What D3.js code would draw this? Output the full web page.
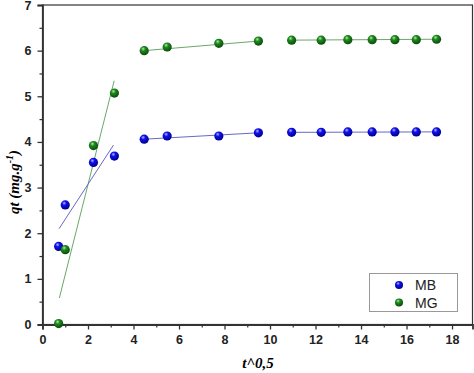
<!DOCTYPE html>
<html><head><meta charset="utf-8">
<script src="https://cdn.jsdelivr.net/npm/d3@7"></script>
<style>body{margin:0;background:#fff}svg{display:block}</style>
</head><body>
<svg id="c" width="474" height="373"></svg>
<script>
const tValues = [0.71, 1.00, 2.24, 3.16, 4.47, 5.48, 7.75, 9.49, 10.95, 12.25, 13.42, 14.49, 15.49, 16.43, 17.32];
const mbValues = [1.71, 2.62, 3.55, 3.69, 4.06, 4.13, 4.13, 4.20, 4.21, 4.21, 4.22, 4.22, 4.22, 4.22, 4.22];
const mgValues = [0.02, 1.64, 3.92, 5.07, 6.00, 6.08, 6.16, 6.21, 6.23, 6.23, 6.24, 6.24, 6.24, 6.24, 6.25];
const mbFits = [[[0.73, 2.10], [3.12, 3.93]], [[4.47, 4.06], [9.49, 4.20]], [[10.95, 4.21], [17.32, 4.22]]];
const mgFits = [[[0.74, 0.58], [3.15, 5.34]], [[4.47, 6.00], [9.49, 6.21]], [[10.95, 6.23], [17.32, 6.25]]];
const xTicks = [0, 2, 4, 6, 8, 10, 12, 14, 16, 18];
const yTicks = [0, 1, 2, 3, 4, 5, 6, 7];
const seriesNames = ["MB", "MG"];

const svg = d3.select("#c");
const L = 42.5, R = 472.5, T = 5, B = 324.5;
const x = d3.scaleLinear().domain([0, 18.9]).range([L, R]);
const y = d3.scaleLinear().domain([0, 7]).range([B, T]);

const defs = svg.append("defs");
function grad(id, light, base, dark) {
  const g = defs.append("radialGradient").attr("id", id).attr("cx", "40%").attr("cy", "35%").attr("r", "65%").attr("fx", "38%").attr("fy", "30%");
  g.append("stop").attr("offset", "0%").attr("stop-color", light);
  g.append("stop").attr("offset", "35%").attr("stop-color", base);
  g.append("stop").attr("offset", "100%").attr("stop-color", dark);
}
grad("gB", "#b8b8ff", "#1010f0", "#00008a");
grad("gG", "#b8e8b0", "#1c8c1c", "#0a4a0a");

// frame
svg.append("rect").attr("x", L).attr("y", T).attr("width", R - L).attr("height", B - T)
  .attr("fill", "none").attr("stroke", "#333").attr("stroke-width", 1.2);

// x axis
const xAxis = d3.axisBottom(x).tickValues(xTicks).tickSize(5).tickPadding(6).tickFormat(d3.format("d"));
const gx = svg.append("g").attr("transform", `translate(0,${B})`).call(xAxis);
gx.select(".domain").attr("stroke", "#333").attr("stroke-width", 1.8);
gx.selectAll(".tick line").attr("stroke", "#333").attr("stroke-width", 1.3);
gx.selectAll("text").attr("font-family", "Liberation Sans, Arial, sans-serif").attr("font-weight", "bold").attr("font-size", 12.5).attr("fill", "#222");
const gxm = svg.append("g").attr("transform", `translate(0,${B})`).call(d3.axisBottom(x).tickValues(d3.range(1, 19, 2)).tickSize(3).tickFormat(""));
gxm.select(".domain").remove();
gxm.selectAll(".tick line").attr("stroke", "#333").attr("stroke-width", 1.2);

// y axis
const yAxis = d3.axisLeft(y).tickValues(yTicks).tickSize(5).tickPadding(6).tickFormat(d3.format("d"));
const gy = svg.append("g").attr("transform", `translate(${L},0)`).call(yAxis);
gy.select(".domain").attr("stroke", "#333").attr("stroke-width", 1.8);
gy.selectAll(".tick line").attr("stroke", "#333").attr("stroke-width", 1.3);
gy.selectAll("text").attr("font-family", "Liberation Sans, Arial, sans-serif").attr("font-weight", "bold").attr("font-size", 12.5).attr("fill", "#222");
const gym = svg.append("g").attr("transform", `translate(${L},0)`).call(d3.axisLeft(y).tickValues(d3.range(0.5, 7, 1)).tickSize(3).tickFormat(""));
gym.select(".domain").remove();
gym.selectAll(".tick line").attr("stroke", "#333").attr("stroke-width", 1.2);

// fit lines
const line = d3.line().x(d => x(d[0])).y(d => y(d[1]));
svg.append("g").selectAll("path").data(mgFits).join("path")
  .attr("d", line).attr("fill", "none").attr("stroke", "#6aa86a").attr("stroke-width", 1);
svg.append("g").selectAll("path").data(mbFits).join("path")
  .attr("d", line).attr("fill", "none").attr("stroke", "#6868c8").attr("stroke-width", 1);

// points
function pts(vals, g) {
  svg.append("g").selectAll("circle").data(tValues.map((t, i) => [t, vals[i]])).join("circle")
    .attr("cx", d => x(d[0])).attr("cy", d => y(d[1])).attr("r", 4.6).attr("fill", `url(#${g})`);
}
pts(mbValues, "gB");
pts(mgValues, "gG");

// legend
const lg = svg.append("g");
lg.append("rect").attr("x", 369.5).attr("y", 273.5).attr("width", 88).attr("height", 38)
  .attr("fill", "#fff").attr("stroke", "#999").attr("stroke-width", 1);
seriesNames.forEach((n, i) => {
  const yy = 285 + i * 17.5;
  lg.append("circle").attr("cx", 399).attr("cy", yy).attr("r", 4).attr("fill", i === 0 ? "url(#gB)" : "url(#gG)");
  lg.append("text").attr("x", 415).attr("y", yy + 5).text(n)
    .attr("font-family", "Liberation Sans, Arial, sans-serif").attr("font-size", 14).attr("fill", "#222");
});

// axis titles
svg.append("text").attr("x", 258).attr("y", 368).attr("text-anchor", "middle")
  .attr("font-family", "Liberation Serif, Times New Roman, serif").attr("font-style", "italic").attr("font-weight", "bold").attr("font-size", 15)
  .text("t^0,5");
const yl = svg.append("text").attr("transform", "translate(19,182) rotate(-90)").attr("text-anchor", "middle")
  .attr("font-family", "Liberation Serif, Times New Roman, serif").attr("font-style", "italic").attr("font-weight", "bold").attr("font-size", 15);
yl.append("tspan").text("qt (mg.g");
yl.append("tspan").attr("dy", -6).attr("font-size", 10).text("-1");
yl.append("tspan").attr("dy", 6).text(")");
</script>
</body></html>
